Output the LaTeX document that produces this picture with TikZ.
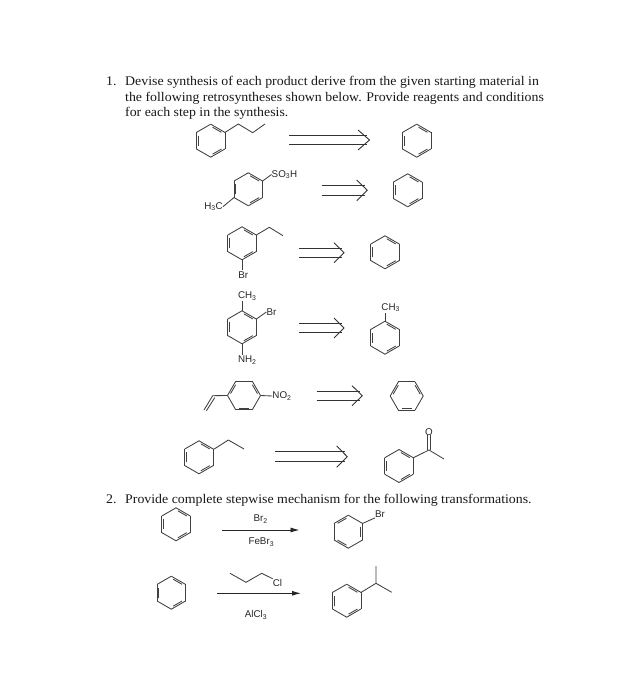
\documentclass[tikz,border=0pt]{standalone}
\usepackage{fontspec}
\setmainfont{Liberation Serif}[FakeStretch=1.05]
\setsansfont{Liberation Sans}
\usetikzlibrary{arrows}
\usetikzlibrary{arrows.meta}
\usetikzlibrary{calc}

% ring: centre, start angle of the first edge, indices of the edges that are doubled
\newcommand{\ring}[3]{
  \foreach \k in {0,...,5}
    \draw[bond] ($(#1)+(#2+60*\k:16.5)$) -- ($(#1)+(#2+60+60*\k:16.5)$);
  \foreach \k in {#3}
    \draw[bond] ($(#1)+(#2+60*\k+8:13.6)$) -- ($(#1)+(#2+60+60*\k-8:13.6)$);
}

\begin{document}
\begin{tikzpicture}[x=1pt,y=-1pt]

\tikzstyle{bond}=[line width=0.85pt, draw=black!75]
\tikzstyle{para}=[font=\rmfamily\fontsize{13.2}{15}\selectfont, anchor=base west, inner sep=0pt, text=black!90]
\tikzstyle{atom}=[font=\sffamily\fontsize{9.8}{11}\selectfont, inner sep=0pt, text=black!85]
\tikzstyle{retro}=[line width=0.9pt, draw=black!80]
\tikzstyle{connect}=[-{Latex[length=9pt,width=5pt]}, line width=0.9pt, draw=black!85]

\useasboundingbox[fill=white] (0,0) rectangle (639,700);

% question text
\node[para] (n1) at (106,86) {1.};
\node[para] (l1) at (125,86) {Devise synthesis of each product derive from the given starting material in};
\node[para] (l2) at (125,101.5) {the following retrosyntheses shown below. Provide reagents and conditions};
\node[para] (l3) at (125,116.5) {for each step in the synthesis.};
\node[para] (n2) at (106,503.5) {2.};
\node[para] (l4) at (125,503.5) {Provide complete stepwise mechanism for the following transformations.};

% rings
\coordinate (a1) at (210.7,140.7);
\coordinate (a2) at (416.7,140.7);
\coordinate (b1) at (248.3,189.3);
\coordinate (b2) at (407.7,190.3);
\coordinate (c1) at (242,243.3);
\coordinate (c2) at (385,252.3);
\coordinate (d1) at (242,327.3);
\coordinate (d2) at (385,337.7);
\coordinate (e1) at (244,395.5);
\coordinate (e2) at (406.7,396);
\coordinate (f1) at (199,457.3);
\coordinate (f2) at (399,466);
\coordinate (g1) at (176,524.3);
\coordinate (g2) at (348.3,531.7);
\coordinate (h1) at (171.3,592.7);
\coordinate (h2) at (346.7,600.7);

\foreach \c in {a1,a2,b1,b2,c1,c2,d1,d2,f1,f2,g1,h1,h2}
  \ring{\c}{-90}{0,2,4};
\ring{g2}{-90}{1,3,5};
\ring{e1}{0}{1,3,5};
\ring{e2}{0}{1,3,5};

% substituents
\coordinate (a3) at (238.3,124);
\coordinate (a4) at (252.7,132.7);
\coordinate (a5) at (265,124);
\draw[bond] ($(a1)+(-30:16.5)$) -- (a3) -- (a4) -- (a5);

\node[atom] (so3h) at (284.5,174.5) {SO\textsubscript{3}H};
\node[atom] (h3c) at (213.5,206.7) {H\textsubscript{3}C};
\draw[bond] ($(b1)+(-30:16.5)$) -- (so3h.west);
\draw[bond] ($(b1)+(150:16.5)$) -- (h3c.east);

\coordinate (c3) at (269.3,227.3);
\coordinate (c4) at (283,235.7);
\draw[bond] ($(c1)+(-30:16.5)$) -- (c3) -- (c4);
\node[atom] (br1) at (243.3,275.5) {Br};
\draw[bond] ($(c1)+(90:16.5)$) -- (242,270);

\node[atom] (ch1) at (247.3,296) {CH\textsubscript{3}};
\node[atom] (br2) at (271.5,312) {Br};
\node[atom] (nh2) at (247.3,360) {NH\textsubscript{2}};
\draw[bond] ($(d1)+(-90:16.5)$) -- (242,301);
\draw[bond] ($(d1)+(-30:16.5)$) -- (br2.west);
\draw[bond] ($(d1)+(90:16.5)$) -- (242,354.5);

\node[atom] (ch2) at (390.7,307.7) {CH\textsubscript{3}};
\draw[bond] ($(d2)+(-90:16.5)$) -- (385,312.5);

\coordinate (e3) at (212.7,395.7);
\coordinate (e4) at (204,410);
\node[atom] (no2) at (282,396) {NO\textsubscript{2}};
\draw[bond] ($(e1)+(180:16.5)$) -- (e3) -- (e4);
\draw[bond] ($(e3)+(2,2)$) -- ($(e4)+(2.4,0.8)$);
\draw[bond] ($(e1)+(0:16.5)$) -- (no2.west);

\coordinate (f3) at (214.3,449);
\coordinate (f4) at (228.3,440);
\coordinate (f5) at (244,449);
\draw[bond] ($(f1)+(-30:16.5)$) -- (f3) -- (f4) -- (f5);

\coordinate (k1) at (429,450);
\coordinate (k2) at (444,459);
\node[atom] (oxy) at (429,431.7) {O};
\draw[bond] ($(f2)+(-30:16.5)$) -- (k1) -- (k2);
\draw[bond] ($(k1)+(-1.2,0)$) -- ($(oxy.south)+(-1.2,0)$);
\draw[bond] ($(k1)+(1.2,0)$) -- ($(oxy.south)+(1.2,0)$);

\node[atom] (br3) at (380,514.3) {Br};
\draw[bond] ($(g2)+(-30:16.5)$) -- (br3.south west);

\coordinate (m1) at (376,583.3);
\coordinate (m2) at (376,566);
\coordinate (m3) at (391.7,592.3);
\draw[bond] ($(h2)+(-30:16.5)$) -- (m1) -- (m2);
\draw[bond] (m1) -- (m3);

% retrosynthesis arrows
\coordinate (r1) at (369.5,140);
\draw[retro] (289,135.7) -- (367,135.7);
\draw[retro] (289,144.3) -- (367,144.3);
\draw[retro] (358,130) -- (r1) -- (358,150);

\coordinate (r2) at (367.3,190.3);
\draw[retro] (321.7,185.7) -- (365,185.7);
\draw[retro] (321.7,195) -- (365,195);
\draw[retro] (356.7,180) -- (r2) -- (356.7,200.7);

\coordinate (r3) at (344,252.7);
\draw[retro] (299.3,248.3) -- (341.5,248.3);
\draw[retro] (299.3,257.3) -- (341.5,257.3);
\draw[retro] (334,242.7) -- (r3) -- (334,262.7);

\coordinate (r4) at (344,328);
\draw[retro] (299.3,323.3) -- (341.5,323.3);
\draw[retro] (299.3,332.7) -- (341.5,332.7);
\draw[retro] (334,318) -- (r4) -- (334,338);

\coordinate (r5) at (362.3,395.7);
\draw[retro] (316.7,391) -- (360,391);
\draw[retro] (316.7,400.3) -- (360,400.3);
\draw[retro] (352,385.7) -- (r5) -- (352,405.7);

\coordinate (r6) at (347.3,456.7);
\draw[retro] (275,451.7) -- (345,451.7);
\draw[retro] (275,461.7) -- (345,461.7);
\draw[retro] (336.7,446) -- (r6) -- (336.7,467.3);

% reaction arrows
\coordinate (s1) at (222,530);
\coordinate (s2) at (299.5,530);
\draw[connect] (s1) -- (s2);
\node[atom] (br4) at (260.7,519) {Br\textsubscript{2}};
\node[atom] (febr) at (261.3,542.3) {FeBr\textsubscript{3}};

\coordinate (t1) at (217,593.3);
\coordinate (t2) at (301,593.3);
\draw[connect] (t1) -- (t2);
\node[atom] (alcl) at (256,615) {AlCl\textsubscript{3}};

\coordinate (u1) at (230,573.3);
\coordinate (u2) at (246,582.3);
\coordinate (u3) at (261.7,573.3);
\node[atom] (cl) at (277.5,582.5) {Cl};
\draw[bond] (u1) -- (u2) -- (u3) -- (cl.north west);

\end{tikzpicture}
\end{document}
